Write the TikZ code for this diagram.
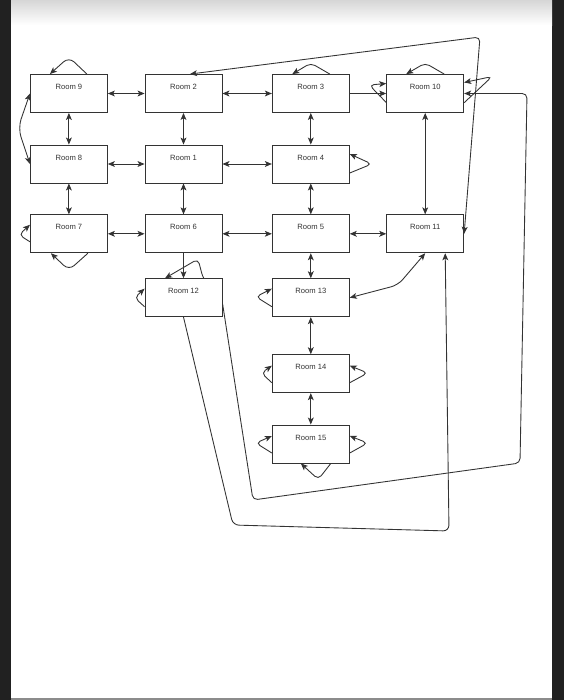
\documentclass[tikz,border=0pt]{standalone}
\usepackage{fontspec}
\newfontfamily\roomfont{Liberation Sans}
\usetikzlibrary{arrows.meta,calc}
\pgfdeclarelayer{background}
\pgfsetlayers{background,main}
\tikzset{
  room/.style={
    draw=black!80,
    fill=white,
    line width=0.75pt,
    minimum width=2.31cm,
    minimum height=1.14cm,
    inner sep=0pt,
    label={[roomlabel]north:#1}
  },
  roomlabel/.style={
    anchor=north,
    yshift=-0.3cm,
    inner sep=0pt,
    text=black!80,
    font=\roomfont\fontsize{6.5}{7}\selectfont
  },
  roomlink/.style={
    draw=black!80,
    line width=0.75pt,
    {Stealth[length=6pt,width=5pt,inset=1.5pt]}-{Stealth[length=6pt,width=5pt,inset=1.5pt]}
  },
  roomarrow/.style={
    draw=black!80,
    line width=0.75pt,
    -{Stealth[length=6pt,width=5pt,inset=1.5pt]}
  },
  roomloop/.style={
    roomarrow,
    rounded corners=4pt
  }
}

\begin{document}
\begin{tikzpicture}[x=0.03cm,y=-0.03cm]
  \useasboundingbox (0,0) rectangle (564,700);
  % screenshot frame
  \fill[black!87] (0,0) rectangle (11,700);
  \fill[black!87] (552,0) rectangle (564,700);
  \shade[top color=black!16, bottom color=white] (11,0) rectangle (552,25);
  \fill[black!45] (11,698) rectangle (552,700);

  % rooms
  \node[room=Room 9] (r9) at (68.9,93.5) {};
  \node[room=Room 2] (r2) at (183.5,93.5) {};
  \node[room=Room 3] (r3) at (310.8,93.5) {};
  \node[room=Room 10] (r10) at (425.2,93.5) {};
  \node[room=Room 8] (r8) at (68.9,164) {};
  \node[room=Room 1] (r1) at (183.5,164) {};
  \node[room=Room 4] (r4) at (310.8,164) {};
  \node[room=Room 7] (r7) at (68.9,233.8) {};
  \node[room=Room 6] (r6) at (183.5,233.8) {};
  \node[room=Room 5] (r5) at (310.8,233.8) {};
  \node[room=Room 11] (r11) at (425.2,233.8) {};
  \node[room=Room 12] (r12) at (183.5,297.7) {};
  \node[room=Room 13] (r13) at (310.8,297.7) {};
  \node[room=Room 14] (r14) at (310.8,373.7) {};
  \node[room=Room 15] (r15) at (310.8,444) {};

  % doors between neighbours
  \foreach \a/\b in {r9/r2,r2/r3,r8/r1,r1/r4,r7/r6,r6/r5,r5/r11,
                     r9/r8,r8/r7,r2/r1,r1/r6,r3/r4,r4/r5,r5/r13,r13/r14,r14/r15,r10/r11}{\draw[roomlink] (\a) -- (\b);}
  \draw[roomarrow] (r3) -- (r10);
  \draw[roomarrow] (r6) -- (r12);
  \draw[roomlink, rounded corners=6pt] (r13.east) -- (398,285) -- (r11.south);
  \draw[roomlink, rounded corners=8pt] (r9.west) -- (18,128) -- (r8.west);

  % loops
  \draw[roomloop, rounded corners=6pt] ($(r9.north)+(18,0)$) -- ($(r9.north)+(0,-17)$) -- ($(r9.north)+(-19,0)$);
  \draw[roomloop] ($(r3.north)+(19,0)$) -- ($(r3.north)+(0,-11)$) -- ($(r3.north)+(-18.5,0)$);
  \draw[roomloop] ($(r10.north)+(19,0)$) -- ($(r10.north)+(0,-11)$) -- ($(r10.north)+(-19,0)$);
  \draw[roomloop] ($(r10.west)+(0,9)$) -- ($(r10.west)+(-17,-8.5)$) -- ($(r10.west)+(0,-10)$);
  \draw[roomloop] ($(r10.east)+(0,9.2)$) -- ($(r10.east)+(28,-17)$) -- ($(r10.east)+(0,-11)$);
  \draw[roomloop] ($(r4.east)+(0,9)$) -- ($(r4.east)+(22,0)$) -- ($(r4.east)+(0,-10)$);
  \draw[roomloop] ($(r7.west)+(0,8)$) -- ($(r7.west)+(-11,1)$) -- ($(r7.west)+(0,-9)$);
  \draw[roomloop, rounded corners=6pt] ($(r7.south)+(19,0)$) -- ($(r7.south)+(0,17)$) -- ($(r7.south)+(-18,0)$);
  \draw[roomloop] ($(r12.west)+(0,9)$) -- ($(r12.west)+(-10,0)$) -- ($(r12.west)+(0,-9)$);
  \draw[roomloop] ($(r13.west)+(0,9)$) -- ($(r13.west)+(-16,-1)$) -- ($(r13.west)+(0,-9)$);
  \draw[roomloop] ($(r14.west)+(0,9)$) -- ($(r14.west)+(-10.5,-0.7)$) -- ($(r14.west)+(0,-8)$);
  \draw[roomloop] ($(r14.east)+(0,9)$) -- ($(r14.east)+(18,-0.7)$) -- ($(r14.east)+(0,-8)$);
  \draw[roomloop] ($(r15.west)+(0,9)$) -- ($(r15.west)+(-16,-1)$) -- ($(r15.west)+(0,-8)$);
  \draw[roomloop] ($(r15.east)+(0,9)$) -- ($(r15.east)+(18,-1)$) -- ($(r15.east)+(0,-8)$);
  \draw[roomloop] ($(r15.south)+(20,0)$) -- ($(r15.south)+(7.5,16)$) -- ($(r15.south)+(-10,0)$);

  % long corridors
  \begin{pgfonlayer}{background}
    \draw[roomlink, rounded corners=4pt] (r10.east) -- (527,93.5) -- (520,463) -- (253,500)
      -- (222,300) -- (203,278) -- (198,259) -- ($(r12.north)+(-18.5,0)$);
  \end{pgfonlayer}
  \draw[roomarrow, rounded corners=5pt] (r12.south) -- (233,525) -- (449,531) -- ($(r11.south)+(20,0)$);
  \draw[roomlink, rounded corners=4pt] ($(r2.north)+(6.5,0)$) -- (480,37) -- (r11.east);
\end{tikzpicture}
\end{document}
